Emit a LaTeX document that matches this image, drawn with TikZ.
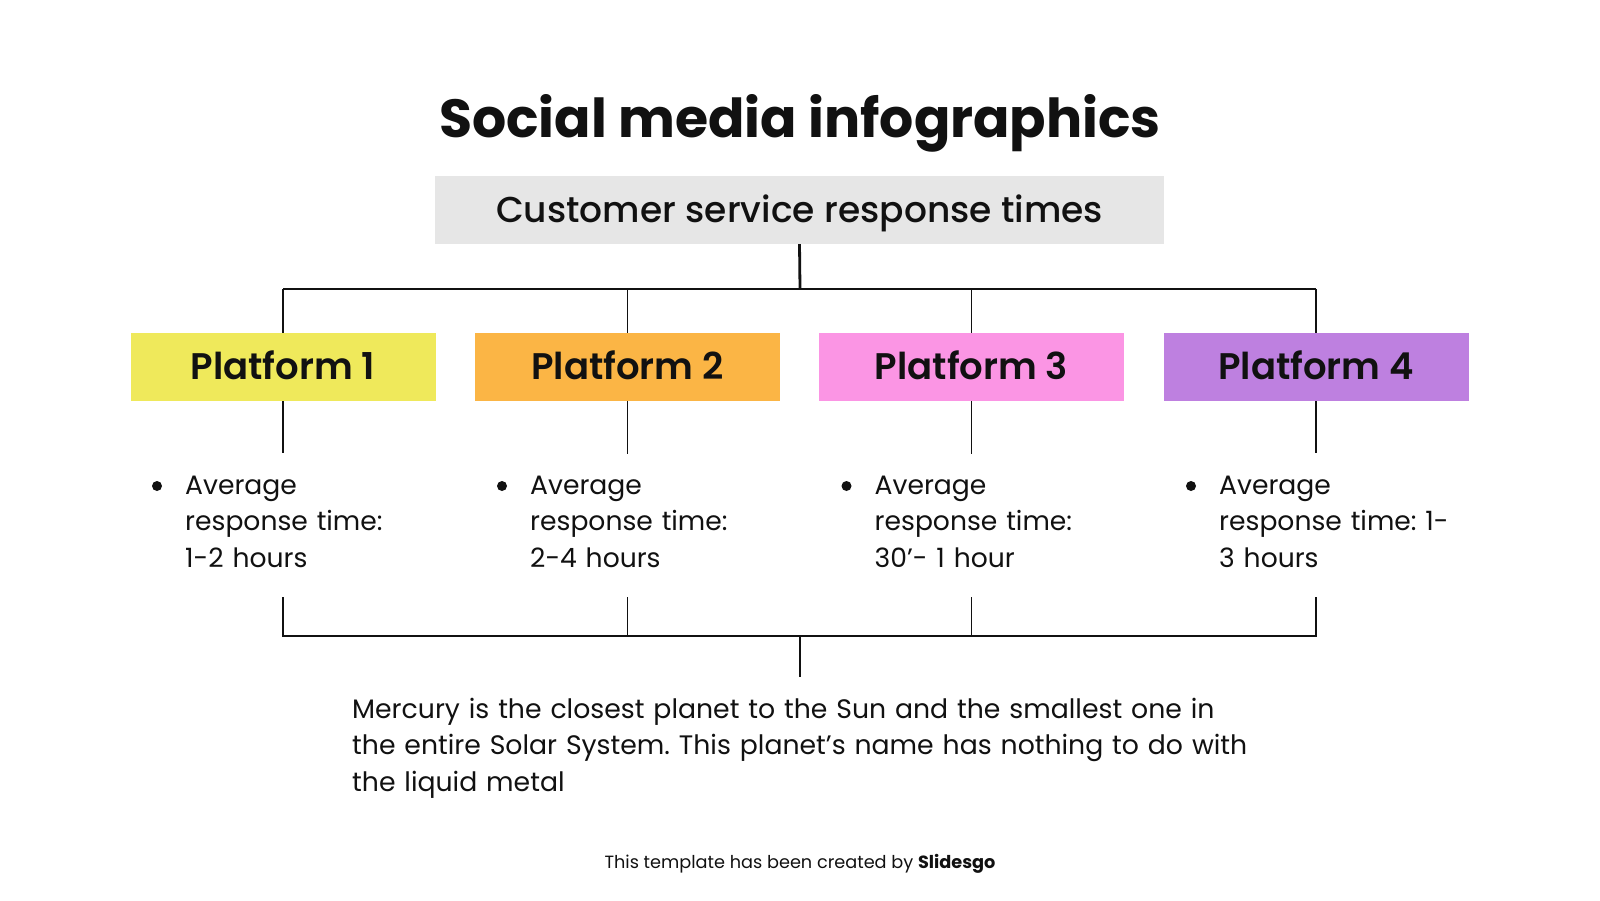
\documentclass[tikz,border=0pt]{standalone}
\usepackage{fontspec}
\setmainfont{Poppins}
\newfontfamily\medfont{Poppins Medium}
\newfontfamily\semifont{Poppins SemiBold}
\frenchspacing
\definecolor{hdrgray}{HTML}{E6E6E6}
\definecolor{pone}{HTML}{EFE95B}
\definecolor{ptwo}{HTML}{FBB545}
\definecolor{pthree}{HTML}{FB95E4}
\definecolor{pfour}{HTML}{BE80E0}
\definecolor{ink}{HTML}{111111}
\tikzset{
  platbox/.style={minimum width=305pt, minimum height=68.5pt, inner sep=0pt, font=\semifont\fontsize{37}{37}\selectfont, text=ink},
  conn/.style={draw=ink, line width=1.5pt},
  thickconn/.style={draw=ink, line width=2.8pt},
  bulletdot/.style={circle, fill=ink, inner sep=0pt, minimum size=10pt},
  bullettext/.style={anchor=base west, text width=260pt, align=left, inner sep=0pt, font=\fontsize{26.6}{36.9}\selectfont, text=ink},
}
\newcommand\lowered[2]{\raisebox{-#1}[0pt][0pt]{#2}}
\begin{document}
\begin{tikzpicture}[x=1pt,y=-1pt]
\useasboundingbox[fill=white] (0,0) rectangle (1600,900);
\node[font=\bfseries\fontsize{53.7}{53.7}\selectfont, text=ink] (title) at (800,123) {Social media infographics};
\node[fill=hdrgray, minimum width=729pt, minimum height=68.5pt, inner sep=0pt, font=\medfont\fontsize{36}{36}\selectfont, text=ink] (hdr) at (799.5,209.75) {\lowered{12.5pt}{Customer service response times}};
\node[platbox, fill=pone] (p1) at (283,367) {\lowered{12.5pt}{Platform 1}};
\node[platbox, fill=ptwo] (p2) at (627.5,367) {\lowered{12.5pt}{Platform 2}};
\node[platbox, fill=pthree] (p3) at (971.5,367) {\lowered{12.5pt}{Platform 3}};
\node[platbox, fill=pfour] (p4) at (1316,367) {\lowered{12.5pt}{Platform 4}};
% top connectors
\coordinate (jt) at (800,289);
\coordinate (t1) at (283,289);
\coordinate (t2) at (627.5,289);
\coordinate (t3) at (971.5,289);
\coordinate (t4) at (1316,289);
\draw[thickconn] (hdr.south) -- (jt);
\draw[conn] (t1) -- (t4);
\draw[conn] (t1) -- (p1.north);
\draw[conn] (t2) -- (p2.north);
\draw[conn] (t3) -- (p3.north);
\draw[conn] (t4) -- (p4.north);
% stubs below boxes
\coordinate (s1) at (283,453);
\coordinate (s2) at (627.5,454);
\coordinate (s3) at (971.5,454);
\coordinate (s4) at (1316,453);
\draw[conn] (p1.south) -- (s1);
\draw[conn] (p2.south) -- (s2);
\draw[conn] (p3.south) -- (s3);
\draw[conn] (p4.south) -- (s4);
% bullets
\node[bulletdot] (d1) at (157,486) {};
\node[bulletdot] (d2) at (502,486) {};
\node[bulletdot] (d3) at (846.5,486) {};
\node[bulletdot] (d4) at (1191,486) {};
\node[bullettext] (b1) at (185,494) {Average\\response time:\\1-2 hours};
\node[bullettext] (b2) at (530,494) {Average\\response time:\\2-4 hours};
\node[bullettext] (b3) at (874.5,494) {Average\\response time:\\30’- 1 hour};
\node[bullettext] (b4) at (1219,494) {Average\\response time: 1-\\3 hours};
% bottom connectors
\coordinate (u1) at (283,597);
\coordinate (u2) at (627.5,597);
\coordinate (u3) at (971.5,597);
\coordinate (u4) at (1316,597);
\coordinate (v1) at (283,636);
\coordinate (v2) at (627.5,636);
\coordinate (v3) at (971.5,636);
\coordinate (v4) at (1316,636);
\coordinate (jb) at (800,636);
\coordinate (jbe) at (800,677);
\draw[conn] (u1) -- (v1) -- (v4) -- (u4);
\draw[conn] (u2) -- (v2);
\draw[conn] (u3) -- (v3);
\draw[thickconn] (jb) -- (jbe);
% paragraph
\node[anchor=base west, text width=1100pt, align=left, inner sep=0pt, font=\fontsize{26.7}{36.9}\selectfont, text=ink] (para) at (352,718) {Mercury is the closest planet to the Sun and the smallest one in\\the entire Solar System. This planet’s name has nothing to do with\\the liquid metal};
% footer
\node[font=\fontsize{17.7}{17.7}\selectfont, text=ink] (foot) at (800,864) {This template has been created by \textbf{Slidesgo}};
\end{tikzpicture}
\end{document}
